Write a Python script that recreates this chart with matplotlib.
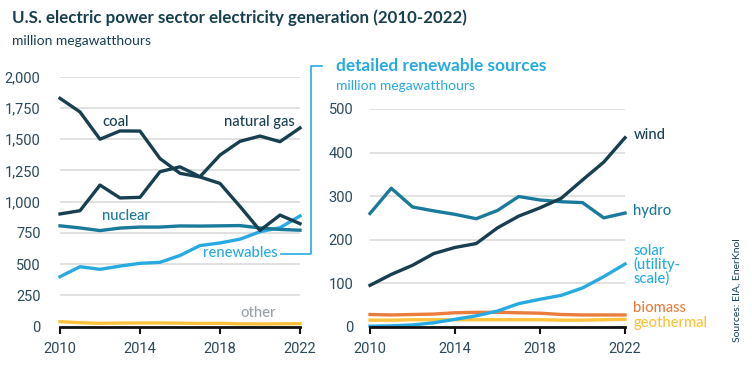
import numpy as np
import matplotlib
matplotlib.use("Agg")
import matplotlib.pyplot as plt
from matplotlib.lines import Line2D

# data (million MWh, U.S. electric power sector)
years = list(range(2010, 2023))

coal = [1827, 1718, 1500, 1566, 1565, 1345, 1227, 1198, 1146, 962, 770, 893, 824]
natural_gas = [902, 928, 1133, 1030, 1035, 1240, 1279, 1200, 1373, 1483, 1525, 1480, 1590]
nuclear = [807, 790, 769, 789, 797, 797, 806, 805, 807, 809, 790, 778, 772]
renewables = [400, 480, 459, 485, 507, 515, 570, 649, 670, 700, 760, 792, 886]
other = [40, 32, 27, 29, 30, 30, 28, 26, 27, 23, 22, 23, 25]

hydro = [260, 318, 275, 266, 258, 248, 267, 299, 291, 287, 285, 250, 261]
wind = [95, 120, 141, 168, 182, 191, 227, 254, 273, 295, 337, 378, 434]
solar = [1, 2, 4, 9, 17, 25, 36, 53, 63, 72, 89, 115, 144]
biomass = [28, 27, 28, 29, 32, 33, 33, 32, 31, 28, 27, 27, 27]
geothermal = [15, 15, 16, 16, 16, 16, 16, 16, 16, 15, 15, 16, 17]

DARK = "#173f50"
MID = "#1a7a9b"
LIGHT = "#27aae1"
ORANGE = "#ea7d3c"
YELLOW = "#fcc23c"
GREY_TXT = "#9aa0a5"
TICK = "#2b4a5b"
GRID = "#dcdcdc"

plt.rcParams["font.family"] = ["Lato", "DejaVu Sans"]

W, H = 752, 374
fig = plt.figure(figsize=(W / 100, H / 100), dpi=100)


def px_axes(x0, x1, y_top, y_bot):
    return fig.add_axes([x0 / W, 1 - y_bot / H, (x1 - x0) / W, (y_bot - y_top) / H])


def style(ax, ylim, yticks, yfmt, pad):
    ax.set_xlim(2010, 2022)
    ax.set_ylim(*ylim)
    ax.set_yticks(yticks)
    ax.set_yticklabels([yfmt(v) for v in yticks], family="Roboto", fontsize=10.5, color=TICK)
    ax.set_xticks([2010, 2014, 2018, 2022])
    ax.set_xticklabels(["2010", "2014", "2018", "2022"], family="Roboto", fontsize=10.5, color=TICK)
    ax.tick_params(axis="y", length=0, pad=pad)
    ax.tick_params(axis="x", length=5, width=1.5, color="#111111", pad=6)
    for s in ["top", "right", "left"]:
        ax.spines[s].set_visible(False)
    ax.spines["bottom"].set_linewidth(2)
    ax.spines["bottom"].set_color("#111111")
    ax.grid(axis="y", color=GRID, linewidth=1.2)
    ax.set_axisbelow(True)
    ax.set_facecolor("none")


# left panel
ax1 = px_axes(60, 300, 76.7, 326.7)
style(ax1, (0, 2000), [0, 250, 500, 750, 1000, 1250, 1500, 1750, 2000],
      lambda v: f"{v:,}", 14)
lw = 2.4
ax1.plot(years, other, color=YELLOW, lw=lw, clip_on=False)
ax1.plot(years, renewables, color=LIGHT, lw=lw, clip_on=False)
ax1.plot(years, nuclear, color=MID, lw=lw, clip_on=False)
ax1.plot(years, natural_gas, color=DARK, lw=lw, clip_on=False)
ax1.plot(years, coal, color=DARK, lw=lw, clip_on=False)

lab = dict(fontsize=10.6, fontweight="medium", va="center")
ax1.text(2012.1, 1640, "coal", color=DARK, ha="left", **lab)
ax1.text(2021.75, 1640, "natural gas", color=DARK, ha="right", **lab)
ax1.text(2012.1, 885, "nuclear", color=MID, ha="left", **lab)
ax1.text(2020.9, 590, "renewables", color=LIGHT, ha="right", **lab)
ax1.text(2019.0, 110, "other", color=GREY_TXT, ha="left", **lab)

# right panel
ax2 = px_axes(370, 625, 109, 326.7)
style(ax2, (0, 500), [0, 100, 200, 300, 400, 500], lambda v: f"{v}", 12)
ax2.plot(years, geothermal, color=YELLOW, lw=lw, clip_on=False)
ax2.plot(years, biomass, color=ORANGE, lw=lw, clip_on=False)
ax2.plot(years, solar, color=LIGHT, lw=lw, clip_on=False)
ax2.plot(years, hydro, color=MID, lw=lw, clip_on=False)
ax2.plot(years, wind, color=DARK, lw=lw, clip_on=False)

xr = 2022.4
ax2.text(xr, 440, "wind", color=DARK, ha="left", **lab)
ax2.text(xr, 266, "hydro", color=MID, ha="left", **lab)
ax2.text(xr, 142, "solar\n(utility-\nscale)", color=LIGHT, ha="left",
         linespacing=0.95, **lab)
ax2.text(xr, 43, "biomass", color=ORANGE, ha="left", **lab)
ax2.text(xr, 9, "geothermal", color=YELLOW, ha="left", **lab)

# titles
fig.text(12 / W, 1 - 18 / H, "U.S. electric power sector electricity generation (2010-2022)",
         fontsize=12.2, fontweight="bold", color=DARK, va="center", ha="left")
fig.text(12 / W, 1 - 41 / H, "million megawatthours", fontsize=10, color=DARK,
         va="center", ha="left")
fig.text(336 / W, 1 - 66 / H, "detailed renewable sources", fontsize=12.4,
         fontweight="bold", color=LIGHT, va="center", ha="left")
fig.text(336 / W, 1 - 86 / H, "million megawatthours", fontsize=10, color=LIGHT,
         va="center", ha="left")
fig.text(737 / W, 1 - 290 / H, "Sources: EIA, EnerKnol", fontsize=7.5, color=DARK,
         rotation=90, va="center", ha="center")

# bracket linking renewables to the detail panel
bx = [281 / W, 311 / W, 311 / W, 322 / W]
by = [1 - 254 / H, 1 - 254 / H, 1 - 66 / H, 1 - 66 / H]
fig.add_artist(Line2D(bx, by, color=LIGHT, lw=1.2, transform=fig.transFigure))

fig.savefig("out.png", dpi=100)
